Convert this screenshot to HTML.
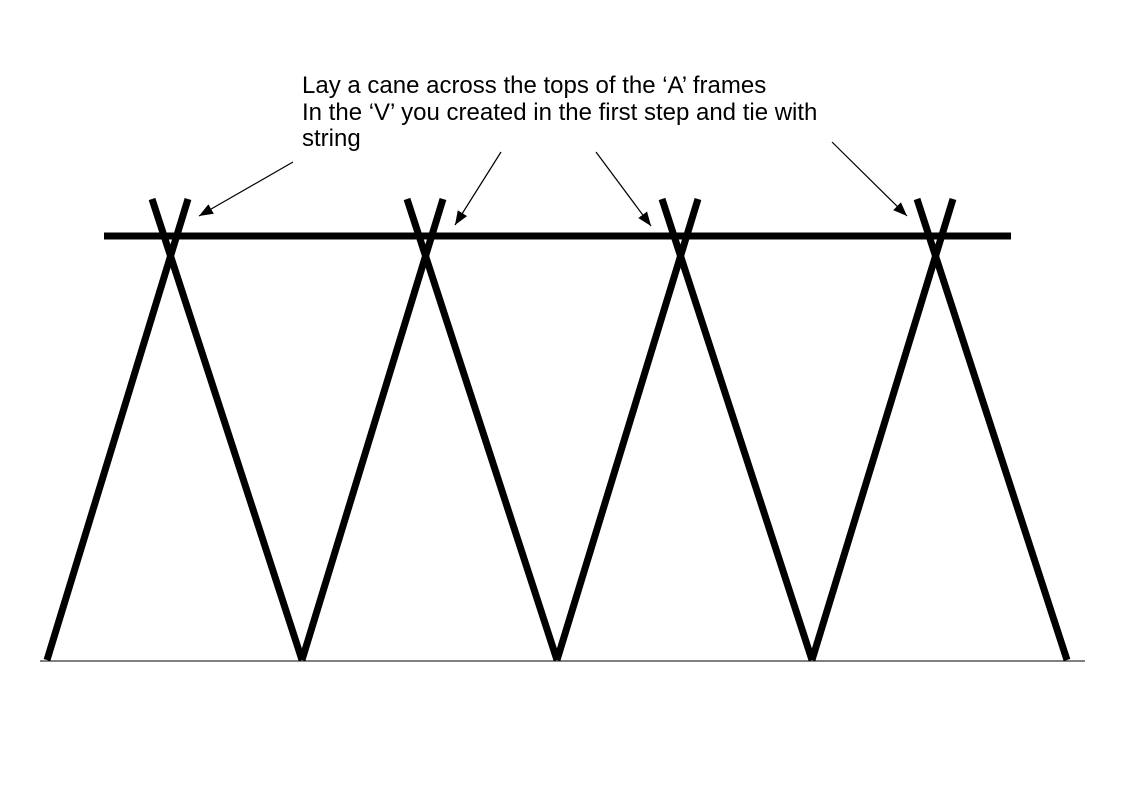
<!DOCTYPE html>
<html><head><meta charset="utf-8"><style>
html,body{margin:0;padding:0;background:#fff;}
svg{display:block;}
</style></head><body>
<svg width="1123" height="794" viewBox="0 0 1123 794" xmlns="http://www.w3.org/2000/svg">
<defs><marker id="a" markerWidth="16" markerHeight="12" refX="14" refY="5.5" orient="auto" markerUnits="userSpaceOnUse"><path d="M0,0 L14,5.5 L0,11 z"/></marker></defs>
<line x1="40" y1="661" x2="1085" y2="661" stroke="#000" stroke-width="1"/>
<line x1="104" y1="236" x2="1011" y2="236" stroke="#000" stroke-width="7"/>
<g stroke="#000" stroke-width="7">
<line x1="47" y1="660" x2="188" y2="199"/><line x1="302" y1="660" x2="152" y2="199"/>
<line x1="302" y1="660" x2="443" y2="199"/><line x1="557" y1="660" x2="407" y2="199"/>
<line x1="557" y1="660" x2="698" y2="199"/><line x1="812" y1="660" x2="662" y2="199"/>
<line x1="812" y1="660" x2="953" y2="199"/><line x1="1067" y1="660" x2="917" y2="199"/>
</g>
<g stroke="#000" stroke-width="1.2" fill="none">
<line x1="293" y1="162" x2="199" y2="216" marker-end="url(#a)"/>
<line x1="501" y1="152" x2="455" y2="225" marker-end="url(#a)"/>
<line x1="596" y1="152" x2="651" y2="226" marker-end="url(#a)"/>
<line x1="832" y1="142" x2="907" y2="216" marker-end="url(#a)"/>
</g>
<g font-family="Liberation Sans, sans-serif" font-size="24" fill="#000">
<text x="302" y="93">Lay a cane across the tops of the ‘A’ frames</text>
<text x="302" y="120">In the ‘V’ you created in the first step and tie with</text>
<text x="302" y="146">string</text>
</g>
</svg>
</body></html>
